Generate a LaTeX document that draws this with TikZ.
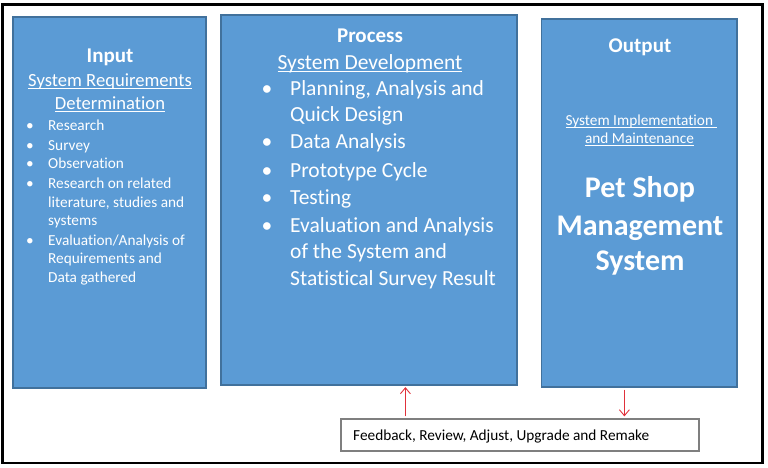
\documentclass[tikz,border=0pt]{standalone}
\usepackage{fontspec}
\setmainfont{Carlito}[Ligatures=NoCommon]
\usetikzlibrary{arrows.meta}
\definecolor{boxfill}{HTML}{5B9BD5}
\definecolor{boxborder}{HTML}{41719C}
\definecolor{arrred}{HTML}{E0313B}
\definecolor{fbborder}{HTML}{7F7F7F}
\newcommand\myul[1]{\setbox0=\hbox{#1}\rlap{\rule[-2.4pt]{\wd0}{0.9pt}}\box0}
\tikzset{
  bluebox/.style={draw=boxborder, fill=boxfill, line width=1.2pt, inner sep=0pt},
  wt/.style={inner sep=0pt, text=white},
  small/.style={font=\fontsize{15.3}{18}\selectfont},
  mid/.style={font=\fontsize{18.6}{22}\selectfont},
  midb/.style={font=\fontsize{21}{25}\selectfont\bfseries},
  big/.style={font=\fontsize{21.5}{26}\selectfont},
  huge/.style={font=\fontsize{30}{36}\selectfont\bfseries},
  arr/.style={draw=arrred, line width=0.9pt, -{Straight Barb[length=6pt,width=10pt]}},
}
\begin{document}
\begin{tikzpicture}[x=1pt,y=-1pt]
\useasboundingbox (0,0) rectangle (768,468);
\draw[line width=2.5pt] (2.5,4.5) rectangle (762.5,463);
% boxes
\node[bluebox, minimum width=193pt, minimum height=371pt] (inp) at (109.5,202.5) {};
\node[bluebox, minimum width=296pt, minimum height=370pt] (proc) at (369,200) {};
\node[bluebox, minimum width=195.5pt, minimum height=368pt] (out) at (639.25,203) {};
\node[draw=fbborder, fill=white, line width=1.2pt, minimum width=358pt, minimum height=32pt, inner sep=0pt] (fb) at (520,435) {};
% input text
\node[wt, midb, anchor=base] (inT) at (110,63) {Input};
\node[wt, mid, anchor=base] (inS1) at (110,87) {\myul{System Requirements}};
\node[wt, mid, anchor=base] (inS2) at (110,110) {\myul{Determination}};
\foreach \y/\t/\b [count=\i] in {131/Research/1, 150/Survey/1, 168/Observation/1, 188/Research on related/1, 207/{literature, studies and}/0, 225/systems/0, 245/Evaluation\slash Analysis of/1, 263/Requirements and/0, 282/Data gathered/0}{
  \node[wt, small, anchor=base west] (inL\i) at (48,\y) {\t};
  \ifnum\b=1 \node[wt, small, anchor=base] (inB\i) at (30,\y) {•};\fi
}
% process text
\node[wt, midb, anchor=base] (prT) at (370,43) {Process};
\node[wt, big, anchor=base] (prS) at (370,70) {\myul{System Development}};
\foreach \y/\t/\b [count=\i] in {96/{Planning, Analysis and}/1, 122/Quick Design/0, 149/Data Analysis/1, 177/Prototype Cycle/1, 204/Testing/1, 232/Evaluation and Analysis/1, 258/of the System and/0, 285/Statistical Survey Result/0}{
  \node[wt, big, anchor=base west] (prL\i) at (290,\y) {\t};
  \ifnum\b=1 \node[wt, big, anchor=base] (prB\i) at (267,\y) {•};\fi
}
% output text
\node[wt, midb, anchor=base] (ouT) at (640,53) {Output};
\node[wt, small, anchor=base] (ouS1) at (641,125) {\myul{System Implementation\ }};
\node[wt, small, anchor=base] (ouS2) at (639.5,143) {\myul{and Maintenance}};
\node[wt, huge, anchor=base] (ouP1) at (640,197) {Pet Shop};
\node[wt, huge, anchor=base] (ouP2) at (640,235) {Management};
\node[wt, huge, anchor=base] (ouP3) at (640,270) {System};
% feedback
\node[inner sep=0pt, small, anchor=base west] (fbT) at (353,440.7) {Feedback, Review, Adjust, Upgrade and Remake};
% arrows
\coordinate (u1) at ([xshift=65pt]fb.north west);
\coordinate (d1) at ([xshift=284pt]fb.north west);
\draw[arr, shorten <=2pt, shorten >=1.5pt] (u1) -- (u1 |- proc.south);
\draw[arr, shorten <=2pt, shorten >=2pt] (d1 |- out.south) -- (d1);
\end{tikzpicture}
\end{document}
